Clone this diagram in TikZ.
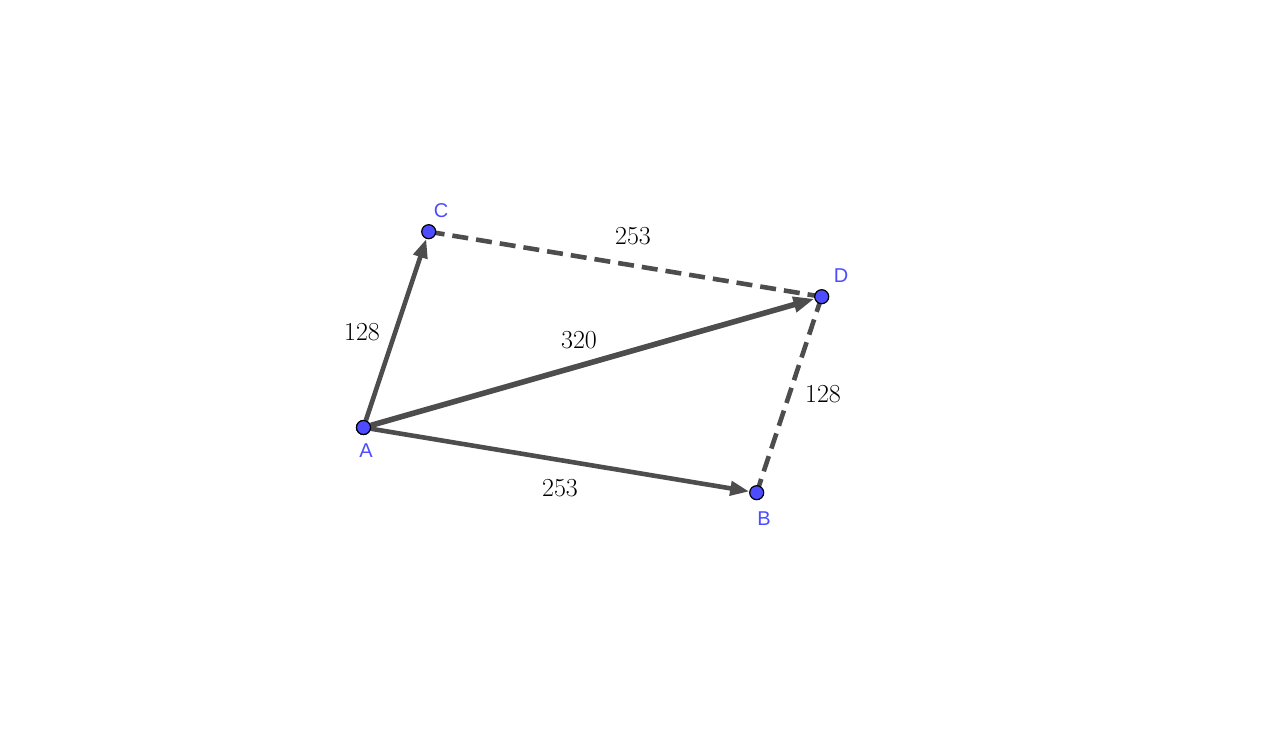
\documentclass[tikz,border=0pt]{standalone}
\usepackage{fontspec}
\newfontfamily\lblfont{Liberation Sans}
\usetikzlibrary{arrows.meta}
\definecolor{ptblue}{HTML}{4D4DFF}
\definecolor{vecgray}{HTML}{4D4D4D}
\begin{document}
\begin{tikzpicture}[x=1pt,y=-1pt,
  pt/.style={circle,draw=black,line width=1.2pt,fill=ptblue,minimum size=14pt,inner sep=0pt},
  vec/.style={draw=vecgray,line width=4.6pt,-{Triangle[length=19pt,width=14pt]}},
  vecthick/.style={draw=vecgray,line width=5.6pt,-{Triangle[length=21pt,width=15pt]}},
  seg/.style={draw=vecgray,line width=4.6pt,dash pattern=on 16pt off 8pt},
  lbl/.style={font=\lblfont\fontsize{20}{24}\selectfont,text=ptblue,inner sep=0pt},
  num/.style={font=\fontsize{26}{31}\selectfont,inner sep=0pt}]
\useasboundingbox (0,0) rectangle (1280,735);
\fill[white] (0,0) rectangle (1280,735);
\coordinate (pA) at (363.5,427.5);
\coordinate (pB) at (756.7,492.7);
\coordinate (pC) at (428.7,231.7);
\coordinate (pD) at (821.7,296.7);
\draw[seg] (pC) -- (pD);
\draw[seg] (pD) -- (pB);
\node[pt] (A) at (pA) {};
\node[pt] (B) at (pB) {};
\node[pt] (C) at (pC) {};
\node[pt] (D) at (pD) {};
\draw[vec] (A) -- (C);
\draw[vec] (A) -- (B);
\draw[vecthick] (A) -- (D);
\node[pt] at (pA) {};
\node[lbl] (lA) at (366,451) {A};
\node[lbl] (lB) at (764,519) {B};
\node[lbl] (lC) at (441,211) {C};
\node[lbl] (lD) at (841,276) {D};
\node[num] (nAC) at (362,332) {128};
\node[num] (nAD) at (579,340) {320};
\node[num] (nCD) at (633,236) {253};
\node[num] (nDB) at (823,394) {128};
\node[num] (nAB) at (560,488) {253};
\end{tikzpicture}
\end{document}
